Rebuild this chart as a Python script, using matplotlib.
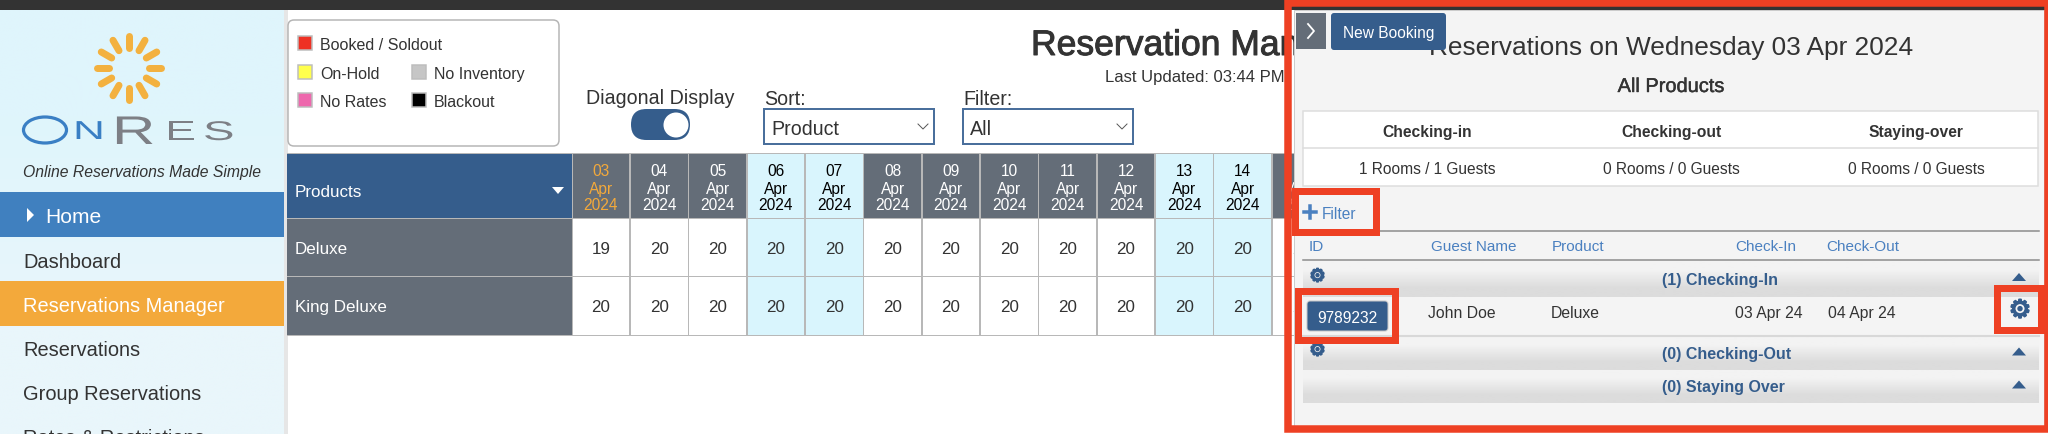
import numpy as np
import matplotlib
matplotlib.use('Agg')
import matplotlib.pyplot as plt
import matplotlib.patheffects as pe
from matplotlib.patches import Rectangle, FancyBboxPatch, Ellipse, Circle, Polygon
from matplotlib.transforms import Affine2D

plt.rcParams['font.family'] = ['Liberation Sans', 'DejaVu Sans']

# table data
days = ['03', '04', '05', '06', '07', '08', '09', '10', '11', '12', '13', '14', '15']
month = 'Apr'
year = '2024'
weekend = ['06', '07', '13', '14']
products = ['Deluxe', 'King Deluxe']
deluxe_avail = [19, 20, 20, 20, 20, 20, 20, 20, 20, 20, 20, 20, 20]
king_avail = [20, 20, 20, 20, 20, 20, 20, 20, 20, 20, 20, 20, 20]

menu_items = ['Dashboard', 'Reservations Manager', 'Reservations', 'Group Reservations', 'Rates & Restrictions']
legend_items = ['Booked / Soldout', 'On-Hold', 'No Inventory', 'No Rates', 'Blackout']
legend_colors = ['#ee3124', '#ffff4d', '#c6c6c6', '#ee68ad', '#000000']

summary_heads = ['Checking-in', 'Checking-out', 'Staying-over']
summary_vals = ['1 Rooms / 1 Guests', '0 Rooms / 0 Guests', '0 Rooms / 0 Guests']
list_heads = ['ID', 'Guest Name', 'Product', 'Check-In', 'Check-Out']
booking = ['John Doe', 'Deluxe', '03 Apr 24', '04 Apr 24']
groups = ['(1) Checking-In', '(0) Checking-Out', '(0) Staying Over']

NAVY = '#355d8c'
SLATE = '#646d78'
ORANGE = '#f3a93b'
RED = '#ee4023'
LINK = '#4a80c0'
DARK = '#333333'
GRID = '#b8b8b8'

fig = plt.figure(figsize=(20.48, 4.35), dpi=100)
ax = fig.add_axes([0, 0, 1, 1])
ax.set_xlim(0, 2048)
ax.set_ylim(435, 0)
ax.axis('off')


class Stretch(pe.AbstractPathEffect):
    # widens the glyphs of a text, for the logo lettering
    def __init__(self, sx):
        super().__init__()
        self.sx = sx

    def draw_path(self, renderer, gc, tpath, affine, rgbFace=None):
        renderer.draw_path(gc, tpath, Affine2D().scale(self.sx, 1) + affine, rgbFace)


def txt(x, y, s, px, color=DARK, ha='left', va='center', z=5, **kw):
    if va == 'center':
        y = y + 1.5  # matplotlib centres a bit high compared to the browser text
    return ax.text(x, y, s, fontsize=px * 0.72, color=color, ha=ha, va=va, zorder=z, **kw)


def box(x0, y0, x1, y1, fc='none', ec='none', lw=0, z=1):
    ax.add_patch(Rectangle((x0, y0), x1 - x0, y1 - y0, facecolor=fc, edgecolor=ec,
                           linewidth=lw * 0.72, zorder=z))


def rbox(x0, y0, x1, y1, r, fc='none', ec='none', lw=0, z=1):
    ax.add_patch(FancyBboxPatch((x0 + r, y0 + r), x1 - x0 - 2 * r, y1 - y0 - 2 * r,
                                boxstyle='round,pad=%f,rounding_size=%f' % (r, r),
                                facecolor=fc, edgecolor=ec, linewidth=lw * 0.72, zorder=z))


def grad(x0, y0, x1, y1, c0, c1, z=1):
    rgb = np.array([matplotlib.colors.to_rgb(c0), matplotlib.colors.to_rgb(c1)])
    ax.imshow(rgb[:, None, :], extent=(x0, x1, y1, y0), aspect='auto', zorder=z,
              interpolation='bilinear')


def gear(x, y, px, z=6):
    txt(x, y, '\u2699', px, color=NAVY, ha='center', z=z, family='DejaVu Sans', fontweight='bold',
        path_effects=[pe.withStroke(linewidth=1.2, foreground=NAVY)])


def up_arrow(x, y, z=6):
    ax.add_patch(Polygon([(x - 7, y + 4), (x + 7, y + 4), (x, y - 4)], facecolor=NAVY, zorder=z))


# sidebar
grad(0, 11, 284, 435, '#dff5fc', '#e9f6fb')
box(284, 11, 288, 435, fc='#e6e6e6')

for i in range(12):
    a = np.deg2rad(30 * i)
    ax.plot([129 + 20 * np.cos(a), 129 + 32 * np.cos(a)],
            [69 + 20 * np.sin(a), 69 + 32 * np.sin(a)],
            color='#f3b13f', lw=7 * 0.72, solid_capstyle='round', zorder=3)

ax.add_patch(Ellipse((45, 131), 43, 26, facecolor='none', edgecolor='#3a7fc4', linewidth=3.2 * 0.72, zorder=3))
txt(73, 140, 'N', 26, color='#3a7fc4', va='baseline', path_effects=[Stretch(1.7)])
txt(112, 145, 'R', 40, color='#7d7f85', va='baseline', path_effects=[Stretch(1.5)])
txt(165, 141, 'E', 27, color='#7d7f85', va='baseline', path_effects=[Stretch(1.7)])
txt(203, 141, 'S', 27, color='#7d7f85', va='baseline', path_effects=[Stretch(1.75)])
txt(23, 171, 'Online Reservations Made Simple', 15.8, style='italic')

box(0, 193, 284, 238, fc='#4080bf', z=2)
ax.add_patch(Polygon([(27, 209), (34, 216), (27, 223)], facecolor='white', zorder=3))
txt(45, 216, 'Home', 21, color='white')
box(0, 282, 284, 327, fc=ORANGE, z=2)
for y, name in zip([261, 305, 349, 393, 437], menu_items):
    txt(23, y, name, 20, color='white' if name == 'Reservations Manager' else DARK)

# legend box
rbox(288, 21, 559, 147, 6, fc='white', ec='#b5b5b5', lw=1.5)
legend_pos = [(298, 44), (298, 73), (412, 73), (298, 101), (412, 101)]
for (x, y), name, c in zip(legend_pos, legend_items, legend_colors):
    box(x, y - 7, x + 14, y + 7, fc=c, ec='#bdbdbd', lw=1.5, z=3)
    txt(x + 22, y, name, 16)

# controls
txt(586, 97, 'Diagonal Display', 19.7)
rbox(631, 110, 690, 141, 15.5, fc=NAVY, z=2)
ax.add_patch(Circle((676, 126), 12.5, facecolor='white', zorder=3))
for x0, x1, label, val in [(764, 934, 'Sort:', 'Product'), (963, 1133, 'Filter:', 'All')]:
    txt(x0, 98, label, 19.7)
    box(x0, 110, x1, 145, fc='white', ec='#4a6f9c', lw=2, z=2)
    txt(x0 + 7, 128, val, 19.7)
    ax.plot([x1 - 16, x1 - 11, x1 - 6], [125, 130, 125], color='#555555', lw=0.7, zorder=3)

txt(1031, 45, 'Reservation Manager', 35.5, fontweight='normal',
    path_effects=[pe.withStroke(linewidth=0.7, foreground=DARK)])
txt(1105, 76, 'Last Updated: 03:44 PM', 16.6)

# reservation grid
box(287, 154, 1300, 337, fc=GRID, z=1)
box(287, 155, 571.5, 219, fc=NAVY, z=2)
txt(295, 191, 'Products', 17, color='white')
ax.add_patch(Polygon([(552, 188), (564, 188), (558, 195)], facecolor='white', zorder=3))
row_tops = [220, 278]
row_bots = [277, 336]
for name, y0, y1 in zip(products, row_tops, row_bots):
    box(287, y0, 571.5, y1, fc=SLATE, z=2)
    txt(295, (y0 + y1) / 2 - 0.5, name, 17, color='white')

x0 = 572.5
cw = 58.35
for i, d in enumerate(days):
    left = x0 + i * cw
    right = left + cw - 1.6
    cx = left + (cw - 1.6) / 2
    wk = d in weekend
    box(left, 155, right, 219, fc='#d9f5fd' if wk else SLATE, z=2)
    c = 'black' if wk else 'white'
    if d == '03':
        c = ORANGE
    for y, s in zip([170, 188, 204], [d, month, year]):
        txt(cx, y, s, 15.5, color=c, ha='center')
    for vals, y0, y1 in zip([deluxe_avail, king_avail], row_tops, row_bots):
        box(left, y0, right, y1, fc='#d9f5fd' if wk else 'white', z=2)
        txt(cx, (y0 + y1) / 2 - 0.5, str(vals[i]), 17, ha='center')

# side panel
P = 10
box(1294, 11, 2044, 428, fc='#f4f4f4', ec='#cccccc', lw=1, z=P)
txt(1671, 47, 'Reservations on Wednesday 03 Apr 2024', 26.3, ha='center', z=P + 1)
txt(1671, 86, 'All Products', 20, ha='center', z=P + 1,
    path_effects=[pe.withStroke(linewidth=0.3, foreground=DARK)])
box(1296, 14, 1326, 50, fc=SLATE, z=P + 2)
ax.plot([1308, 1314, 1308], [25, 32, 39], color='white', lw=1.3, zorder=P + 3)
rbox(1331, 14, 1446, 51, 3, fc=NAVY, z=P + 2)
txt(1388.5, 32, 'New Booking', 15.5, color='white', ha='center', z=P + 3)

box(1303, 112, 2038, 187, fc='white', ec='#dddddd', lw=1.5, z=P + 1)
ax.plot([1303, 2038], [149, 149], color='#dddddd', lw=1.1, zorder=P + 2)
for x, h, v in zip([1427, 1671, 1916], summary_heads, summary_vals):
    txt(x, 131, h, 15.6, ha='center', fontweight='bold', z=P + 2)
    txt(x, 168, v, 15.5, ha='center', z=P + 2)

txt(1322, 213, 'Filter', 15.5, color=LINK, z=P + 2)
ax.plot([1304, 1316], [213, 213], color=LINK, lw=3.5 * 0.72, zorder=P + 2)
ax.plot([1310, 1310], [207, 219], color=LINK, lw=3.5 * 0.72, zorder=P + 2)

ax.plot([1303, 2039], [232, 232], color='#8c8c8c', lw=1.1, zorder=P + 1)
ax.plot([1303, 2039], [261, 261], color='#8c8c8c', lw=1.1, zorder=P + 1)
for x, h in zip([1309, 1431, 1552, 1735, 1826], list_heads):
    txt(x, 246, h, 15.3, color=LINK, z=P + 2)

row_y = [(262, 298), (338, 371), (371, 404)]
for (y0, y1), g in zip(row_y, groups):
    grad(1303, y0, 2039, y1, '#f3f3f3', '#dcdcdc', z=P + 1)
    txt(1662.5, (y0 + y1) / 2 - 1, g, 16, color=NAVY, fontweight='bold', z=P + 2)
    up_arrow(2019, (y0 + y1) / 2 - 2, z=P + 2)
ax.plot([1303, 2039], [336.5, 336.5], color='#d8d8d8', lw=1.5, zorder=P + 1)
gear(1317.5, 276, 18, z=P + 2)
gear(1317.5, 350, 18, z=P + 2)

rbox(1307, 302, 1388, 332, 3, fc=NAVY, ec='#c8c8c8', lw=1, z=P + 2)
txt(1347.5, 317, '9789232', 15.5, color='white', ha='center', z=P + 3)
for x, s in zip([1428.5, 1551, 1735, 1828], booking):
    txt(x, 312, s, 15.7, z=P + 2)
gear(2020, 310, 25, z=P + 2)

# red callouts
box(1287.5, 4, 2047.5, 430, ec=RED, lw=7.5, z=P + 5)
box(1294.5, 191.5, 1375.5, 233, ec=RED, lw=7, z=P + 5)
box(1297.5, 291.5, 1394.5, 341, ec=RED, lw=7, z=P + 5)
box(1996.5, 288.5, 2040.5, 331, ec=RED, lw=7, z=P + 5)

# top bar, above everything except the red frame
box(0, 0, 2048, 11, fc='#333333', z=P + 4)

ax.set_xlim(0, 2048)
ax.set_ylim(435, 0)
fig.savefig('out.png', dpi=100)
